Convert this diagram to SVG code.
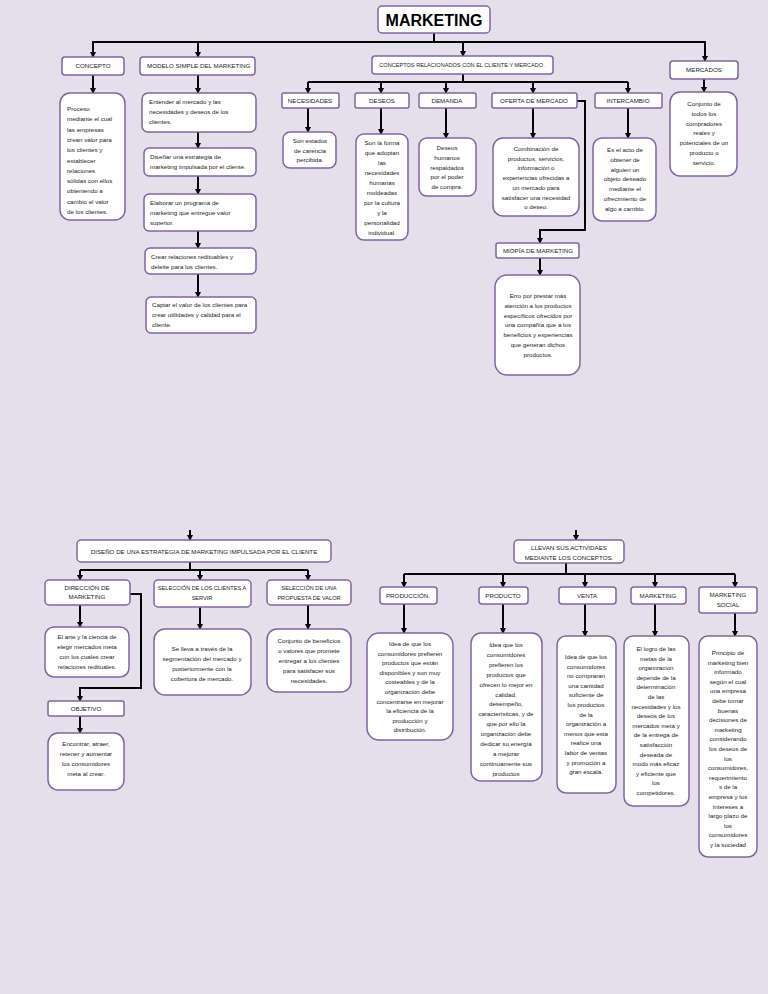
<svg xmlns="http://www.w3.org/2000/svg" width="768" height="994" viewBox="0 0 768 994">
<defs>
<marker id="ah" viewBox="0 0 6 6" refX="5" refY="3" markerWidth="3" markerHeight="3" orient="auto"><path d="M0,0 L6,3 L0,6 z" fill="#000"/></marker>
<style>
.b{fill:#fff;stroke:#8064a2;stroke-width:1.5}
.t{font-family:"Liberation Sans",Arial,sans-serif;font-size:6.2px;fill:#222}
.s{font-size:5.6px}
.c{text-anchor:middle}
.h{font-family:"Liberation Sans",Arial,sans-serif;font-size:16px;font-weight:bold;text-anchor:middle}
#con path{fill:none;stroke:#000;stroke-width:2}
#con path.a{marker-end:url(#ah)}
</style>
</defs>
<rect width="768" height="994" fill="#e5dfec"/>
<g id="con">
<path d="M93,52 V42 H705 V52"/>
<path d="M434,33 V42"/>
<path class="a" d="M93,42 V57"/>
<path class="a" d="M198,42 V57"/>
<path class="a" d="M463,42 V56"/>
<path class="a" d="M705,42 V61"/>
<path class="a" d="M93,75 V93"/>
<path class="a" d="M198,75 V93"/>
<path class="a" d="M198,132 V148"/>
<path class="a" d="M198,176 V194"/>
<path class="a" d="M198,231 V248"/>
<path class="a" d="M198,274 V297"/>
<path class="a" d="M704,79 V92"/>
<path d="M463,74 V82"/>
<path d="M308,82 H628"/>
<path class="a" d="M308,82 V93"/>
<path class="a" d="M381,82 V93"/>
<path class="a" d="M446,82 V93"/>
<path class="a" d="M533,82 V93"/>
<path class="a" d="M628,82 V93"/>
<path class="a" d="M308,108 V132"/>
<path class="a" d="M381,108 V134"/>
<path class="a" d="M446,108 V138"/>
<path class="a" d="M533,108 V138"/>
<path class="a" d="M628,108 V138"/>
<path class="a" d="M577,101 H585 V230 H540 V243"/>
<path class="a" d="M540,258 V275"/>
<path class="a" d="M190,530 V540"/>
<path d="M190,562 V570 M80,570 H308"/>
<path class="a" d="M80,570 V580"/>
<path class="a" d="M200,570 V580"/>
<path class="a" d="M308,570 V580"/>
<path class="a" d="M80,605 V627"/>
<path class="a" d="M200,607 V629"/>
<path class="a" d="M308,605 V629"/>
<path class="a" d="M130,594 H141 V688 H80 V701"/>
<path class="a" d="M80,716 V733"/>
<path class="a" d="M576,530 V540"/>
<path d="M566,563 V574 M404,574 H735"/>
<path class="a" d="M404,574 V587"/>
<path class="a" d="M503,574 V587"/>
<path class="a" d="M585,574 V587"/>
<path class="a" d="M655,574 V587"/>
<path class="a" d="M735,574 V587"/>
<path class="a" d="M404,604 V633"/>
<path class="a" d="M503,604 V633"/>
<path class="a" d="M585,604 V636"/>
<path class="a" d="M655,604 V636"/>
<path class="a" d="M735,613 V636"/>
</g>
<g id="marketing"><rect class="b" x="378" y="6" width="112" height="27" rx="4"/><text class="h" x="434" y="26">MARKETING</text></g>
<g id="concepto"><rect class="b" x="62" y="57" width="62" height="18" rx="3"/><text class="t c" x="93" y="68">CONCEPTO</text></g>
<g id="modelo"><rect class="b" x="140" y="57" width="115" height="18" rx="3"/><text class="t" x="147" y="68">MODELO SIMPLE DEL MARKETING</text></g>
<g id="conceptos"><rect class="b" x="372" y="56" width="181" height="18" rx="3"/><text class="t s c" x="462" y="67">CONCEPTOS RELACIONADOS CON EL CLIENTE Y MERCADO.</text></g>
<g id="mercados"><rect class="b" x="670" y="61" width="68" height="18" rx="3"/><text class="t c" x="704" y="72">MERCADOS</text></g>
<g id="concepto-t"><rect class="b" x="60" y="93" width="65" height="127" rx="10"/><text class="t" x="67" y="111"><tspan x="67">Proceso</tspan><tspan x="67" dy="10.3">mediante el cual</tspan><tspan x="67" dy="10.3">las empresas</tspan><tspan x="67" dy="10.3">crean valor para</tspan><tspan x="67" dy="10.3">los clientes y</tspan><tspan x="67" dy="10.3">establecer</tspan><tspan x="67" dy="10.3">relaciones</tspan><tspan x="67" dy="10.3">sólidas con ellos</tspan><tspan x="67" dy="10.3">obteniendo a</tspan><tspan x="67" dy="10.3">cambio el valor</tspan><tspan x="67" dy="10.3">de los clientes.</tspan></text></g>
<g id="entender"><rect class="b" x="142" y="93" width="114" height="39" rx="6"/><text class="t" x="149" y="104"><tspan x="149">Entender al mercado y las</tspan><tspan x="149" dy="10">necesidades y deseos de los</tspan><tspan x="149" dy="10">clientes.</tspan></text></g>
<g id="disenar"><rect class="b" x="144" y="148" width="112" height="28" rx="5"/><text class="t" x="150" y="159"><tspan x="150">Diseñar una estrategia de</tspan><tspan x="150" dy="10">marketing impulsada por el cliente.</tspan></text></g>
<g id="elaborar"><rect class="b" x="144" y="194" width="112" height="37" rx="5"/><text class="t" x="150" y="205"><tspan x="150">Elaborar un programa de</tspan><tspan x="150" dy="10">marketing que entregue valor</tspan><tspan x="150" dy="10">superior.</tspan></text></g>
<g id="crear"><rect class="b" x="145" y="248" width="111" height="26" rx="5"/><text class="t" x="151" y="259"><tspan x="151">Crear relaciones redituables y</tspan><tspan x="151" dy="10">deleite para los clientes.</tspan></text></g>
<g id="captar"><rect class="b" x="146" y="297" width="110" height="36" rx="5"/><text class="t" x="152" y="307"><tspan x="152">Captar el valor de los clientes para</tspan><tspan x="152" dy="10">crear utilidades y calidad para el</tspan><tspan x="152" dy="10">cliente.</tspan></text></g>
<g id="necesidades"><rect class="b" x="282" y="93" width="57" height="15" rx="2"/><text class="t c" x="310" y="103">NECESIDADES</text></g>
<g id="deseos"><rect class="b" x="355" y="93" width="54" height="15" rx="2"/><text class="t c" x="382" y="103">DESEOS</text></g>
<g id="demanda"><rect class="b" x="419" y="93" width="57" height="15" rx="2"/><text class="t c" x="447" y="103">DEMANDA</text></g>
<g id="oferta"><rect class="b" x="492" y="93" width="85" height="15" rx="2"/><text class="t c" x="534" y="103">OFERTA DE MERCADO</text></g>
<g id="intercambio"><rect class="b" x="595" y="93" width="67" height="15" rx="2"/><text class="t c" x="628" y="103">INTERCAMBIO</text></g>
<g id="nec-t"><rect class="b" x="283" y="132" width="53" height="36" rx="7"/><text class="t c" x="310" y="143"><tspan x="310">Son estados</tspan><tspan x="310" dy="9.5">de carencia</tspan><tspan x="310" dy="9.5">percibida.</tspan></text></g>
<g id="des-t"><rect class="b" x="356" y="134" width="52" height="106" rx="8"/><text class="t c" x="382" y="145"><tspan x="382">Son la forma</tspan><tspan x="382" dy="10">que adoptan</tspan><tspan x="382" dy="10">las</tspan><tspan x="382" dy="10">necesidades</tspan><tspan x="382" dy="10">humanas</tspan><tspan x="382" dy="10">moldeadas</tspan><tspan x="382" dy="10">por la cultura</tspan><tspan x="382" dy="10">y la</tspan><tspan x="382" dy="10">personalidad</tspan><tspan x="382" dy="10">individual.</tspan></text></g>
<g id="dem-t"><rect class="b" x="419" y="138" width="57" height="58" rx="8"/><text class="t c" x="447" y="150"><tspan x="447">Deseos</tspan><tspan x="447" dy="9.8">humanos</tspan><tspan x="447" dy="9.8">respaldados</tspan><tspan x="447" dy="9.8">por el poder</tspan><tspan x="447" dy="9.8">de compra.</tspan></text></g>
<g id="ofe-t"><rect class="b" x="493" y="138" width="86" height="78" rx="10"/><text class="t c" x="536" y="151"><tspan x="536">Combinación de</tspan><tspan x="536" dy="9.7">productos, servicios,</tspan><tspan x="536" dy="9.7">información o</tspan><tspan x="536" dy="9.7">experiencias ofrecidas a</tspan><tspan x="536" dy="9.7">un mercado para</tspan><tspan x="536" dy="9.7">satisfacer una necesidad</tspan><tspan x="536" dy="9.7">o deseo.</tspan></text></g>
<g id="int-t"><rect class="b" x="593" y="138" width="63" height="83" rx="9"/><text class="t c" x="625" y="152"><tspan x="625">Es el acto de</tspan><tspan x="625" dy="9.8">obtener de</tspan><tspan x="625" dy="9.8">alguien un</tspan><tspan x="625" dy="9.8">objeto deseado</tspan><tspan x="625" dy="9.8">mediante el</tspan><tspan x="625" dy="9.8">ofrecimiento de</tspan><tspan x="625" dy="9.8">algo a cambio.</tspan></text></g>
<g id="mer-t"><rect class="b" x="670" y="92" width="67" height="84" rx="10"/><text class="t c" x="704" y="106"><tspan x="704">Conjunto de</tspan><tspan x="704" dy="9.8">todos los</tspan><tspan x="704" dy="9.8">compradores</tspan><tspan x="704" dy="9.8">reales y</tspan><tspan x="704" dy="9.8">potenciales de un</tspan><tspan x="704" dy="9.8">producto o</tspan><tspan x="704" dy="9.8">servicio.</tspan></text></g>
<g id="miopia"><rect class="b" x="496" y="243" width="83" height="15" rx="2"/><text class="t c" x="538" y="253">MIOPÍA DE MARKETING</text></g>
<g id="erro"><rect class="b" x="495" y="275" width="85" height="100" rx="12"/><text class="t c" x="538" y="298"><tspan x="538">Erro por prestar más</tspan><tspan x="538" dy="9.8">atención a los productos</tspan><tspan x="538" dy="9.8">específicos ofrecidos por</tspan><tspan x="538" dy="9.8">una compañía que a los</tspan><tspan x="538" dy="9.8">beneficios y experiencias</tspan><tspan x="538" dy="9.8">que generan dichos</tspan><tspan x="538" dy="9.8">productos.</tspan></text></g>
<g id="diseno"><rect class="b" x="77" y="540" width="254" height="22" rx="4"/><text class="t c" x="204" y="554">DISEÑO DE UNA ESTRATEGIA DE MARKETING IMPULSADA POR EL CLIENTE</text></g>
<g id="direccion"><rect class="b" x="45" y="580" width="85" height="25" rx="4"/><text class="t c" x="87" y="590"><tspan x="87">DIRECCIÓN DE</tspan><tspan x="87" dy="9">MARKETING</tspan></text></g>
<g id="sel-cli"><rect class="b" x="154" y="580" width="97" height="27" rx="4"/><text class="t s c" x="202" y="590"><tspan x="202">SELECCIÓN DE LOS CLIENTES A</tspan><tspan x="202" dy="10">SERVIR</tspan></text></g>
<g id="sel-pro"><rect class="b" x="267" y="580" width="84" height="25" rx="4"/><text class="t s c" x="309" y="590"><tspan x="309">SELECCIÓN DE UNA</tspan><tspan x="309" dy="10">PROPUESTA DE VALOR</tspan></text></g>
<g id="arte"><rect class="b" x="45" y="627" width="84" height="50" rx="9"/><text class="t c" x="87" y="639"><tspan x="87">El arte y la ciencia de</tspan><tspan x="87" dy="10">elegir mercados meta</tspan><tspan x="87" dy="10">con los cuales crear</tspan><tspan x="87" dy="10">relaciones redituales.</tspan></text></g>
<g id="lleva"><rect class="b" x="154" y="629" width="97" height="66" rx="11"/><text class="t c" x="202" y="651"><tspan x="202">Se lleva a través de la</tspan><tspan x="202" dy="10">segmentación del mercado y</tspan><tspan x="202" dy="10">posteriormente con la</tspan><tspan x="202" dy="10">cobertura de mercado.</tspan></text></g>
<g id="conj"><rect class="b" x="267" y="629" width="84" height="63" rx="10"/><text class="t c" x="309" y="643"><tspan x="309">Conjunto de beneficios</tspan><tspan x="309" dy="10">o valores que promete</tspan><tspan x="309" dy="10">entregar a los clientes</tspan><tspan x="309" dy="10">para satisfacer sus</tspan><tspan x="309" dy="10">necesidades.</tspan></text></g>
<g id="objetivo"><rect class="b" x="48" y="701" width="76" height="15" rx="2"/><text class="t c" x="86" y="711">OBJETIVO</text></g>
<g id="encontrar"><rect class="b" x="48" y="733" width="76" height="57" rx="10"/><text class="t c" x="86" y="746"><tspan x="86">Encontrar, atraer,</tspan><tspan x="86" dy="10">retener y aumentar</tspan><tspan x="86" dy="10">los consumidores</tspan><tspan x="86" dy="10">meta al crear.</tspan></text></g>
<g id="llevan"><rect class="b" x="514" y="540" width="110" height="23" rx="4"/><text class="t c" x="569" y="550"><tspan x="569">LLEVAN SUS ACTIVIDAES</tspan><tspan x="569" dy="10">MEDIANTE LOS CONCEPTOS.</tspan></text></g>
<g id="produccion"><rect class="b" x="380" y="587" width="57" height="17" rx="3"/><text class="t c" x="408" y="598">PRODUCCIÓN.</text></g>
<g id="producto"><rect class="b" x="479" y="587" width="49" height="17" rx="3"/><text class="t c" x="503" y="598">PRODUCTO</text></g>
<g id="venta"><rect class="b" x="559" y="587" width="57" height="17" rx="3"/><text class="t c" x="587" y="598">VENTA</text></g>
<g id="mkt"><rect class="b" x="631" y="587" width="55" height="17" rx="3"/><text class="t c" x="658" y="598">MARKETING</text></g>
<g id="social"><rect class="b" x="699" y="587" width="58" height="26" rx="3"/><text class="t c" x="728" y="597"><tspan x="728">MARKETING</tspan><tspan x="728" dy="10">SOCIAL</tspan></text></g>
<g id="prod-t"><rect class="b" x="367" y="633" width="86" height="107" rx="12"/><text class="t c" x="410" y="646"><tspan x="410">Idea de que los</tspan><tspan x="410" dy="9.6">consumidores prefieren</tspan><tspan x="410" dy="9.6">productos que están</tspan><tspan x="410" dy="9.6">disponibles y son muy</tspan><tspan x="410" dy="9.6">costeables y de la</tspan><tspan x="410" dy="9.6">organización debe</tspan><tspan x="410" dy="9.6">concentrarse en mejorar</tspan><tspan x="410" dy="9.6">la eficiencia de la</tspan><tspan x="410" dy="9.6">producción y</tspan><tspan x="410" dy="9.6">distribución.</tspan></text></g>
<g id="producto-t"><rect class="b" x="471" y="633" width="71" height="148" rx="10"/><text class="t c" x="506" y="647"><tspan x="506">Idea que los</tspan><tspan x="506" dy="9.9">consumidores</tspan><tspan x="506" dy="9.9">prefieren los</tspan><tspan x="506" dy="9.9">productos que</tspan><tspan x="506" dy="9.9">ofrecen lo mejor en</tspan><tspan x="506" dy="9.9">calidad,</tspan><tspan x="506" dy="9.9">desempeño,</tspan><tspan x="506" dy="9.9">características, y de</tspan><tspan x="506" dy="9.9">que por ello la</tspan><tspan x="506" dy="9.9">organización debe</tspan><tspan x="506" dy="9.9">dedicar su energía</tspan><tspan x="506" dy="9.9">a mejorar</tspan><tspan x="506" dy="9.9">continuamente sus</tspan><tspan x="506" dy="9.9">productos</tspan></text></g>
<g id="venta-t"><rect class="b" x="557" y="636" width="59" height="157" rx="9"/><text class="t c" x="586" y="659"><tspan x="586">Idea de que los</tspan><tspan x="586" dy="9.6">consumidores</tspan><tspan x="586" dy="9.6">no compraran</tspan><tspan x="586" dy="9.6">una cantidad</tspan><tspan x="586" dy="9.6">suficiente de</tspan><tspan x="586" dy="9.6">los productos</tspan><tspan x="586" dy="9.6">de la</tspan><tspan x="586" dy="9.6">organización a</tspan><tspan x="586" dy="9.6">menos que esta</tspan><tspan x="586" dy="9.6">realice una</tspan><tspan x="586" dy="9.6">labor de ventas</tspan><tspan x="586" dy="9.6">y promoción a</tspan><tspan x="586" dy="9.6">gran escala.</tspan></text></g>
<g id="mkt-t"><rect class="b" x="624" y="636" width="65" height="170" rx="9"/><text class="t c" x="656" y="651"><tspan x="656">El logro de las</tspan><tspan x="656" dy="9.6">metas de la</tspan><tspan x="656" dy="9.6">organización</tspan><tspan x="656" dy="9.6">depende de la</tspan><tspan x="656" dy="9.6">determinación</tspan><tspan x="656" dy="9.6">de las</tspan><tspan x="656" dy="9.6">necesidades y los</tspan><tspan x="656" dy="9.6">deseos de los</tspan><tspan x="656" dy="9.6">mercados meta y</tspan><tspan x="656" dy="9.6">de la entrega de</tspan><tspan x="656" dy="9.6">satisfacción</tspan><tspan x="656" dy="9.6">deseada de</tspan><tspan x="656" dy="9.6">modo más eficaz</tspan><tspan x="656" dy="9.6">y eficiente que</tspan><tspan x="656" dy="9.6">los</tspan><tspan x="656" dy="9.6">competidores.</tspan></text></g>
<g id="social-t"><rect class="b" x="699" y="636" width="58" height="221" rx="9"/><text class="t c" x="728" y="655"><tspan x="728">Principio de</tspan><tspan x="728" dy="9.6">marketing bien</tspan><tspan x="728" dy="9.6">informado</tspan><tspan x="728" dy="9.6">según el cual</tspan><tspan x="728" dy="9.6">una empresa</tspan><tspan x="728" dy="9.6">debe tomar</tspan><tspan x="728" dy="9.6">buenas</tspan><tspan x="728" dy="9.6">decisiones de</tspan><tspan x="728" dy="9.6">marketing</tspan><tspan x="728" dy="9.6">considerando</tspan><tspan x="728" dy="9.6">los deseos de</tspan><tspan x="728" dy="9.6">los</tspan><tspan x="728" dy="9.6">consumidores,</tspan><tspan x="728" dy="9.6">requerimiento</tspan><tspan x="728" dy="9.6">s de la</tspan><tspan x="728" dy="9.6">empresa y los</tspan><tspan x="728" dy="9.6">intereses a</tspan><tspan x="728" dy="9.6">largo plazo de</tspan><tspan x="728" dy="9.6">los</tspan><tspan x="728" dy="9.6">consumidores</tspan><tspan x="728" dy="9.6">y la sociedad</tspan></text></g>
</svg>
